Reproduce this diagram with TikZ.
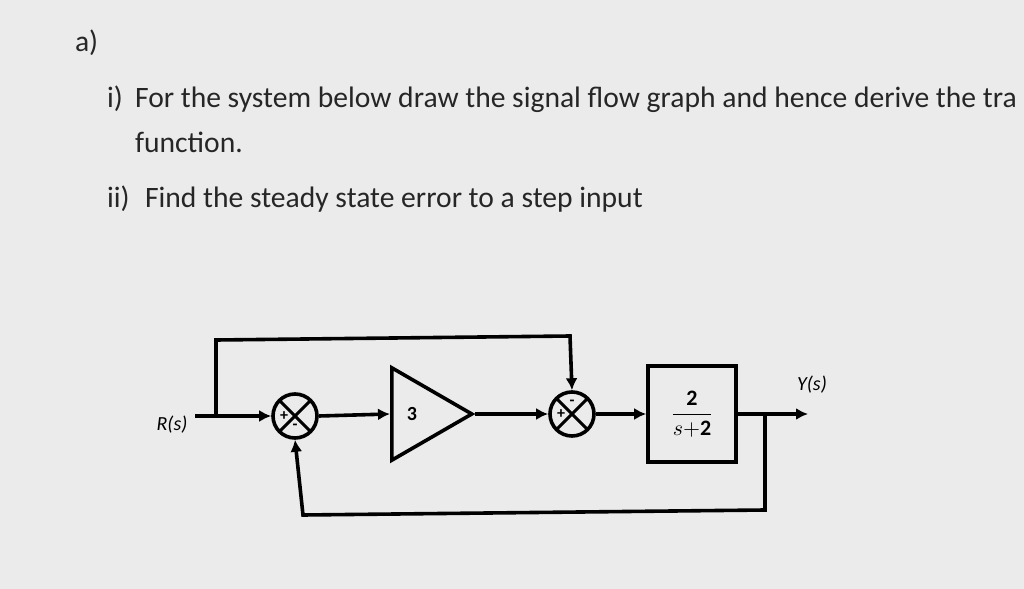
\documentclass[tikz,border=0pt]{standalone}
\usepackage{fontspec}
\setmainfont{Carlito}
\usetikzlibrary{arrows.meta,calc,shapes.geometric}
\begin{document}
\begin{tikzpicture}[x=0.5pt,y=-0.5pt,
  txt/.style={anchor=base west,font=\fontsize{14.8}{16}\selectfont,text=black!85},
  wire/.style={line width=1.8pt},
  arr/.style={wire,-{Latex[length=6pt,width=6pt]}},
  sumnode/.style={circle,draw,line width=1.8pt,minimum size=22pt,inner sep=0pt,
    path picture={\draw[line width=1.5pt] (path picture bounding box.north west)--(path picture bounding box.south east)
      (path picture bounding box.north east)--(path picture bounding box.south west);}},
  sgn/.style={font=\fontsize{8}{8}\selectfont\bfseries,inner sep=0pt}]
\fill[black!8] (0,0) rectangle (1024,589);
\useasboundingbox (0,0) rectangle (1024,589);
\node[txt] (a) at (68,52) {a)};
\node[txt] (i) at (100,107) {i)};
\node[txt] (t1) at (128,107) {For the system below draw the signal flow graph and hence derive the tra};
\node[txt] (t2) at (128,152) {function.};
\node[txt] (ii) at (100,207) {ii)};
\node[txt] (t3) at (138,207) {Find the steady state error to a step input};

\node[sumnode] (s1) at (295,416) {};
\node[sgn] at ($(s1)+(-11,0)$) {+};
\node[sgn] at ($(s1)+(0,11)$) {-};
\node[draw,line width=1.8pt,isosceles triangle,isosceles triangle apex angle=60,minimum height=40pt,inner sep=0pt,anchor=west] (g) at (390,414) {};
\node[font=\fontsize{10}{10}\selectfont\bfseries] (g3) at (412,414) {3};
\node[sumnode] (s2) at (572,414) {};
\node[sgn] at ($(s2)+(0,-11)$) {-};
\node[sgn] at ($(s2)+(-11,0)$) {+};
\node[draw,line width=1.8pt,minimum width=44pt,minimum height=48pt] (b) at (692,414) {};
\node[font=\fontsize{11}{11}\selectfont] (frac) at (692,414) {$\displaystyle\frac{\mathbf{2}}{s\mathbf{+2}}$};
\node[font=\fontsize{10}{10}\selectfont\itshape] (R) at (172,425) {R(s)};
\node[font=\fontsize{10}{10}\selectfont\itshape] (Y) at (812,385) {Y(s)};
\coordinate (rin) at (195,416);
\coordinate (tap) at (216,416);
\coordinate (br) at (765,414);
\coordinate (out) at (808,414);

\draw[arr] (rin) -- (s1.west);
\draw[arr] (tap) -- (216,340) -- (570,336) -- (s2.north);
\draw[arr] (s1.east) -- (g.west);
\draw[arr] (g.apex) -- (s2.west);
\draw[arr] (s2.east) -- (b.west);
\draw[arr] (b.east) -- (out);
\draw[arr] (br) -- (765,510) -- (303,515) -- (s1.south);
\end{tikzpicture}
\end{document}
